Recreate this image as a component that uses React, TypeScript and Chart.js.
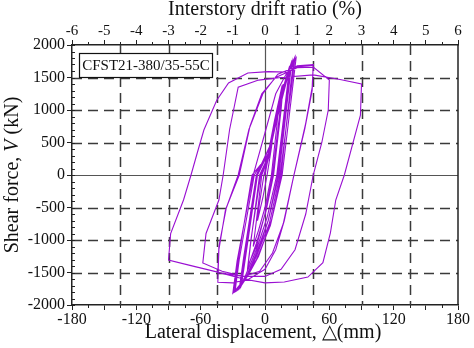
import { useEffect, useRef } from 'react';
import { Chart, registerables } from 'chart.js';

Chart.register(...registerables);

// ---- data (displacement in mm, shear force in kN) ----
const smallCyclesX = [
  0, 4, 8, 6, 2, -2, -7, -5, -1,
  4, 9, 13, 11, 6, 0, -6, -11, -8, -3,
  3, 10, 17, 15, 8, 1, -8, -16, -13, -5,
  2, 9, 16, 14, 7, 0, -8, -16, -13, -4,
  4, 12, 18, 23, 20, 11, 2, -8, -17, -22, -18, -7,
  5, 13, 19, 24, 21, 12, 3, -8, -17, -23, -19, -8,
  6, 14, 20, 25, 22, 13, 3, -7, -16, -24, -20, -8,
  5, 14, 20, 26, 28, 25, 14, 4, -8, -18, -26, -28, -24, -10,
  4, 14, 21, 27, 29, 26, 16, 5, -8, -19, -27, -29, -25, -12,
  3, 12, 19, 25, 27, 24, 15, 6, -6, -16, -24, -30, -26, -11,
];
const smallCyclesV = [
  0, 350, 700, 420, 0, -350, -700, -420, 0,
  300, 750, 1100, 750, 0, -500, -850, -1100, -700, 0,
  250, 850, 1400, 1000, 0, -550, -1050, -1420, -1000, 0,
  250, 850, 1380, 980, 0, -600, -1100, -1400, -980, 0,
  350, 950, 1400, 1680, 1250, 0, -650, -1150, -1500, -1700, -1250, 0,
  400, 1000, 1450, 1700, 1250, 0, -700, -1200, -1550, -1720, -1250, 0,
  500, 1100, 1500, 1740, 1300, 0, -700, -1200, -1550, -1750, -1280, 0,
  450, 1100, 1500, 1750, 1815, 1400, 0, -750, -1250, -1600, -1780, -1800, -1300, 0,
  350, 1050, 1500, 1750, 1800, 1380, 0, -780, -1300, -1600, -1760, -1790, -1300, 0,
  300, 950, 1400, 1700, 1780, 1400, 0, -700, -1250, -1550, -1720, -1820, -1320, 0,
];
const cycle45X = [
  0, 10, 20, 30, 45, 44, 38, 27, 18, 10, 0, -15, -30, -44, -43, -37, -25,
  -15, -2, 12, 28, 45, 44, 37, 27, 17, 7, -5, -20, -44, -43, -36, -24,
];
const cycle45V = [
  650, 1250, 1560, 1680, 1700, 1350, 800, 0, -700, -1150, -1450, -1600, -1660, -1650, -1150, -550, 0,
  700, 1250, 1550, 1660, 1690, 1300, 700, 0, -750, -1200, -1480, -1560, -1500, -1100, -500, 0,
];
const cycle60X = [
  -14, -3, 10, 30, 45, 60, 59, 53, 45, 38, 28, 15, 0, -20, -40, -58, -55, -43, -39,
  -33, -25, -6, 15, 45,
];
const cycle60V = [
  750, 1250, 1500, 1650, 1660, 1460, 1000, 500, 0, -600, -1150, -1450, -1560, -1560, -1480, -1354, -900, -385, 0,
  700, 1350, 1460, 1500, 1540,
];
const cycle90X = [
  70, 90, 89, 74, 66, 61, 54, 40, 18, 0, -20, -45, -70, -90, -88, -76, -69,
  -63, -57, -45, -34, -16, 3, 20,
];
const cycle90V = [
  1470, 1400, 920, 0, -385, -890, -1350, -1570, -1645, -1660, -1600, -1490, -1390, -1310, -900, -385, 0,
  350, 692, 1150, 1415, 1570, 1590, 1585,
];

const dispTicksLabelled = [-180, -120, -60, 0, 60, 120, 180];
const driftGridMM = [-135, -90, -45, 45, 90, 135];
const shearGrid = [-1500, -1000, -500, 500, 1000, 1500];
const specimenLabel = 'CFST21-380/35-55C';
const topTitle = 'Interstory drift ratio (%)';
const bottomTitle = 'Lateral displacement, \u25B3(mm)';

const SERIF = "'Liberation Serif', 'Times New Roman', serif";
const LINE = '#9a0fd2';
const AXIS = '#222';

const allX = [...smallCyclesX, ...cycle45X, ...cycle60X, ...cycle90X];
const allV = [...smallCyclesV, ...cycle45V, ...cycle60V, ...cycle90V];

const gridPlugin = {
  id: 'customGrid',
  beforeDatasetsDraw(chart: any) {
    const { ctx, chartArea: a, scales } = chart;
    const xs = scales.x, ys = scales.y;
    ctx.save();
    ctx.beginPath();
    ctx.rect(a.left, a.top, a.right - a.left, a.bottom - a.top);
    ctx.clip();
    ctx.strokeStyle = '#3a3a3a';
    ctx.lineWidth = 1.5;
    ctx.setLineDash([10, 6]);
    driftGridMM.forEach((v) => {
      const p = Math.round(xs.getPixelForValue(v)) + 0.5;
      ctx.beginPath();
      ctx.moveTo(p, a.top);
      ctx.lineTo(p, a.bottom);
      ctx.stroke();
    });
    shearGrid.forEach((v) => {
      const p = Math.round(ys.getPixelForValue(v)) + 0.5;
      ctx.beginPath();
      ctx.moveTo(a.left, p);
      ctx.lineTo(a.right, p);
      ctx.stroke();
    });
    ctx.setLineDash([]);
    ctx.strokeStyle = '#555';
    ctx.lineWidth = 1.2;
    const x0 = Math.round(xs.getPixelForValue(0)) + 0.5;
    const y0 = Math.round(ys.getPixelForValue(0)) + 0.5;
    ctx.beginPath();
    ctx.moveTo(x0, a.top);
    ctx.lineTo(x0, a.bottom);
    ctx.moveTo(a.left, y0);
    ctx.lineTo(a.right, y0);
    ctx.stroke();
    ctx.restore();
  },
  afterDraw(chart: any) {
    const { ctx, chartArea: a, scales } = chart;
    const xs = scales.x, ys = scales.y, xt = scales.xTop;
    ctx.save();
    ctx.strokeStyle = AXIS;
    ctx.lineWidth = 1.5;
    ctx.beginPath();
    ctx.moveTo(a.right, a.top);
    ctx.lineTo(a.right, a.bottom);
    ctx.stroke();
    ctx.lineWidth = 1;
    ctx.beginPath();
    for (let v = -2000; v <= 2000; v += 100) {
      const p = Math.round(ys.getPixelForValue(v)) + 0.5;
      ctx.moveTo(a.left, p);
      ctx.lineTo(a.left + 3, p);
    }
    for (let v = -165; v <= 165; v += 30) {
      const p = Math.round(xs.getPixelForValue(v)) + 0.5;
      ctx.moveTo(p, a.bottom);
      ctx.lineTo(p, a.bottom + 3);
    }
    for (let v = -5.5; v <= 5.5; v += 1) {
      const p = Math.round(xt.getPixelForValue(v)) + 0.5;
      ctx.moveTo(p, a.top);
      ctx.lineTo(p, a.top - 3);
    }
    ctx.stroke();

    const bx = a.left + 7, by = a.top + 8, bw = 133, bh = 24;
    ctx.fillStyle = '#fff';
    ctx.fillRect(bx, by, bw, bh);
    ctx.strokeStyle = '#111';
    ctx.lineWidth = 1.2;
    ctx.strokeRect(bx + 0.5, by + 0.5, bw, bh);
    ctx.fillStyle = '#111';
    ctx.font = `15px ${SERIF}`;
    ctx.textAlign = 'center';
    ctx.textBaseline = 'middle';
    ctx.fillText(specimenLabel, bx + bw / 2 + 0.5, by + bh / 2 + 1);

    ctx.font = `20px ${SERIF}`;
    ctx.fillText(topTitle, (a.left + a.right) / 2, 10);
    ctx.fillText(bottomTitle, (a.left + a.right) / 2 - 2, 333);

    const parts = [
      { t: 'Shear force, ', f: `20px ${SERIF}` },
      { t: 'V', f: `italic 20px ${SERIF}` },
      { t: ' (kN)', f: `20px ${SERIF}` },
    ];
    let total = 0;
    parts.forEach((p) => {
      ctx.font = p.f;
      total += ctx.measureText(p.t).width;
    });
    ctx.translate(13, (a.top + a.bottom) / 2);
    ctx.rotate(-Math.PI / 2);
    ctx.textAlign = 'left';
    let cx = -total / 2;
    parts.forEach((p) => {
      ctx.font = p.f;
      ctx.fillText(p.t, cx, 0);
      cx += ctx.measureText(p.t).width;
    });
    ctx.restore();
  },
};

export default function App() {
  const ref = useRef<HTMLCanvasElement | null>(null);
  useEffect(() => {
    document.body.style.margin = '0';
    if (!ref.current) return;
    const points = allX.map((x, i) => ({ x, y: allV[i] }));
    const tickFont = { family: SERIF, size: 16 };
    const chart = new Chart(ref.current, {
      type: 'scatter',
      data: {
        datasets: [
          {
            data: points,
            showLine: true,
            borderColor: LINE,
            borderWidth: 1.1,
            pointRadius: 0,
            tension: 0,
            xAxisID: 'x',
            yAxisID: 'y',
          },
        ],
      },
      plugins: [gridPlugin],
      options: {
        animation: false,
        responsive: true,
        maintainAspectRatio: false,
        layout: { padding: { left: 0, right: 16, top: 0, bottom: 0 } },
        plugins: { legend: { display: false }, tooltip: { enabled: false } },
        scales: {
          x: {
            type: 'linear',
            position: 'bottom',
            min: -180,
            max: 180,
            ticks: {
              stepSize: 30,
              autoSkip: false,
              maxRotation: 0,
              padding: 0,
              color: '#111',
              font: tickFont,
              callback: (v: any) => (dispTicksLabelled.includes(Number(v)) ? String(v) : ''),
            },
            grid: { drawOnChartArea: false, drawTicks: true, tickLength: 5, color: AXIS },
            border: { color: AXIS, width: 1.5 },
            afterFit: (s: any) => {
              s.height = 43;
            },
          },
          xTop: {
            type: 'linear',
            position: 'top',
            min: -6,
            max: 6,
            ticks: {
              stepSize: 1,
              autoSkip: false,
              maxRotation: 0,
              padding: 0,
              color: '#111',
              font: { family: SERIF, size: 15 },
              callback: (v: any) => String(v),
            },
            grid: { drawOnChartArea: false, drawTicks: true, tickLength: 5, color: AXIS },
            border: { color: AXIS, width: 1.5 },
            afterFit: (s: any) => {
              s.height = 45;
            },
          },
          y: {
            type: 'linear',
            position: 'left',
            min: -2000,
            max: 2000,
            ticks: {
              stepSize: 500,
              autoSkip: false,
              padding: 2,
              color: '#111',
              font: tickFont,
              callback: (v: any) => String(v),
            },
            grid: { drawOnChartArea: false, drawTicks: true, tickLength: 5, color: AXIS },
            border: { color: AXIS, width: 1.5 },
            afterFit: (s: any) => {
              s.width = 72;
            },
          },
        },
      },
    } as any);
    return () => chart.destroy();
  }, []);
  return (
    <div style={{ position: 'relative', width: 474, height: 348 }}>
      <canvas ref={ref} />
    </div>
  );
}
